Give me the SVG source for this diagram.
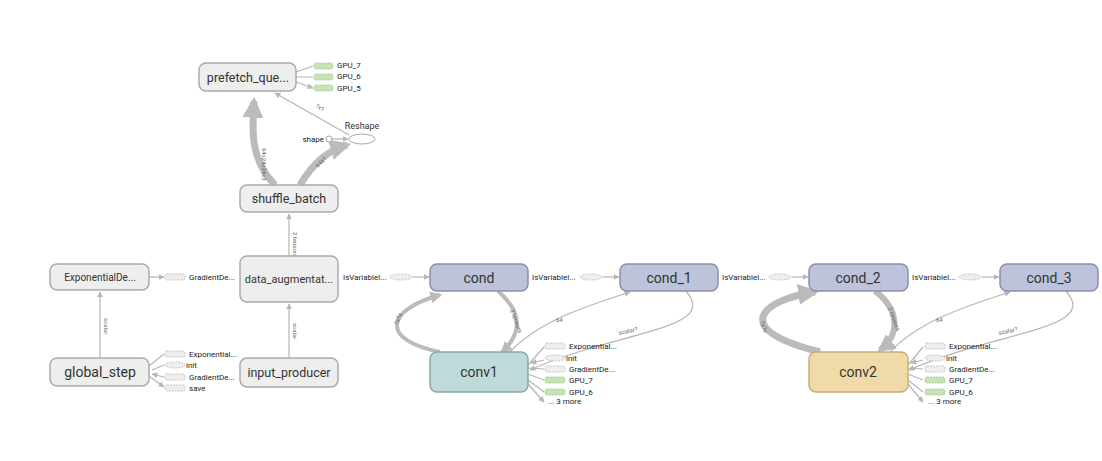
<svg xmlns="http://www.w3.org/2000/svg" width="1102" height="461" viewBox="0 0 1102 461">
<style>
.n{fill:#eee;stroke:#aaa;stroke-width:1.5}
.c{fill:#bcc3db;stroke:#8a90a8;stroke-width:1.5}
.t{font-family:Roboto,"Liberation Sans",sans-serif;fill:#333;text-anchor:middle}
.s{font-family:Roboto,"Liberation Sans",sans-serif;font-size:8px;fill:#222}
.e{font-family:Roboto,"Liberation Sans",sans-serif;font-size:6px;fill:#666}
.st{fill:#eee;stroke:#bbb;stroke-width:0.8;stroke-dasharray:2,1}
.g{fill:#c8e2b4;stroke:#9c9;stroke-width:0.8;stroke-dasharray:2,1}
.l{fill:none;stroke:#b5b5b5;stroke-width:1.2}
.w{fill:none;stroke:#bbb}
</style>
<defs>
<marker id="a" viewBox="0 0 10 10" refX="9" refY="5" markerWidth="6" markerHeight="6" orient="auto" markerUnits="userSpaceOnUse"><path d="M0,0L10,5L0,10z" fill="#b5b5b5"/></marker>
<marker id="A" viewBox="0 0 10 10" refX="8" refY="5" markerWidth="3" markerHeight="3" orient="auto"><path d="M0,0L10,5L0,10z" fill="#bbb"/></marker>
</defs>
<rect width="1102" height="461" fill="#fff"/>
<g id="connectors">
<path class="w" stroke-width="7" d="M275,185 C250,160 252,130 254,101" marker-end="url(#A)"/>
<path class="w" stroke-width="7" d="M300,185 C315,160 330,150 347,145" marker-end="url(#A)"/>
<path class="l" d="M349,135 L275,93" marker-end="url(#a)"/>
<path class="l" d="M332,139 L348,139" marker-end="url(#a)"/>
<path class="l" d="M296,72 L313,66 M296,77 L313,77 M296,82 L313,88" marker-end="url(#a)"/>
<path class="l" d="M289,256 L289,214" marker-end="url(#a)"/>
<path class="l" d="M289,358 L289,304" marker-end="url(#a)"/>
<path class="l" d="M100,358 L100,292" marker-end="url(#a)"/>
<path class="l" d="M149,277 L164,277" marker-end="url(#a)"/>
<path class="l" d="M149,366 L164,354 M149,376 L164,387" marker-end="url(#a)"/>
<path class="l" d="M164,365 L152,370 M164,377 L152,374" marker-end="url(#a)"/>
<path class="l" d="M413,277 L429,277" marker-end="url(#a)"/>
<path class="l" d="M603,277 L619,277" marker-end="url(#a)"/>
<path class="l" d="M792,277 L808,277" marker-end="url(#a)"/>
<path class="l" d="M982,277 L999,277" marker-end="url(#a)"/>
<path class="w" stroke-width="4" d="M440,352 C380,340 385,310 440,295" marker-end="url(#A)"/>
<path class="w" stroke-width="4" d="M498,291 C525,315 520,335 502,352" marker-end="url(#A)"/>
<path class="l" d="M510,352 C540,320 590,305 630,292" marker-end="url(#a)"/>
<path class="l" d="M686,291 C720,330 620,330 530,370" marker-end="url(#a)"/>
<path class="w" stroke-width="7" d="M820,352 C730,330 760,300 815,292" marker-end="url(#A)"/>
<path class="w" stroke-width="6" d="M875,291 C900,310 900,335 880,350" marker-end="url(#A)"/>
<path class="l" d="M890,352 C920,320 970,305 1010,292" marker-end="url(#a)"/>
<path class="l" d="M1066,291 C1100,330 1000,330 909,370" marker-end="url(#a)"/>
<path class="l" d="M528,365 L544,347 M528,368 L544,369 M528,374 L544,380 M528,380 L544,392 M528,384 L544,402" marker-end="url(#a)"/>
<path class="l" d="M544,360 L531,363" marker-end="url(#a)"/>
<path class="l" d="M908,365 L923,347 M908,368 L923,369 M908,374 L923,380 M908,380 L923,392 M908,384 L923,402" marker-end="url(#a)"/>
<path class="l" d="M923,360 L911,363" marker-end="url(#a)"/>
</g>
<g id="edge-labels">
<text class="e" transform="translate(262,148) rotate(90)">64x24x24x3</text>
<text class="e" transform="translate(318,168) rotate(-45)">64x1</text>
<text class="e" transform="translate(315,107) rotate(30)">?x1</text>
<text class="e" transform="translate(293,232) rotate(90)">2 tensors</text>
<text class="e" transform="translate(293,323) rotate(90)">scalar</text>
<text class="e" transform="translate(104,318) rotate(90)">scalar</text>
<text class="e" transform="translate(398,325) rotate(-70)">?x?x</text>
<text class="e" transform="translate(510,310) rotate(70)">2 tensors</text>
<text class="e" x="556" y="322">64</text>
<text class="e" transform="translate(619,335) rotate(-12)">scalar?</text>
<text class="e" transform="translate(760,322) rotate(70)">?x?x</text>
<text class="e" transform="translate(888,308) rotate(70)">2 tensors</text>
<text class="e" x="936" y="322">64</text>
<text class="e" transform="translate(999,335) rotate(-12)">scalar?</text>
</g>
<g id="prefetch_queue"><rect class="n" x="199" y="63" width="97" height="28" rx="7"/><text class="t" x="248" y="82" font-size="12.5">prefetch_que...</text></g>
<g id="gpu_stubs_top">
<rect class="g" x="314" y="63" width="19" height="6" rx="2"/><text class="s" x="337" y="68">GPU_7</text>
<rect class="g" x="314" y="74" width="19" height="6" rx="2"/><text class="s" x="337" y="79">GPU_6</text>
<rect class="g" x="314" y="85" width="19" height="6" rx="2"/><text class="s" x="337" y="91">GPU_5</text>
</g>
<g id="Reshape"><ellipse cx="362" cy="139" rx="13" ry="5" fill="#fff" stroke="#aaa"/><text class="t" x="362" y="129" font-size="9">Reshape</text></g>
<g id="shape"><circle cx="329" cy="139" r="3" fill="#fff" stroke="#aaa"/><text class="s" x="324" y="142" text-anchor="end">shape</text></g>
<g id="shuffle_batch"><rect class="n" x="240" y="185" width="98" height="27" rx="7"/><text class="t" x="289" y="203" font-size="12.5">shuffle_batch</text></g>
<g id="data_augmentation"><rect class="n" x="240" y="256" width="98" height="46" rx="7"/><text class="t" x="289" y="283" font-size="11">data_augmentat...</text></g>
<g id="input_producer"><rect class="n" x="240" y="358" width="98" height="29" rx="7"/><text class="t" x="289" y="377" font-size="12.5">input_producer</text></g>
<g id="ExponentialDecay"><rect class="n" x="50" y="264" width="99" height="26" rx="7"/><text class="t" x="100" y="281" font-size="10">ExponentialDe...</text></g>
<g id="global_step"><rect class="n" x="50" y="358" width="99" height="28" rx="7"/><text class="t" x="100" y="377" font-size="14">global_step</text></g>
<g id="stubs_left">
<rect class="st" x="165" y="274" width="20" height="6" rx="2"/><text class="s" x="189" y="280">GradientDe...</text>
<rect class="st" x="165" y="351" width="20" height="6" rx="2"/><text class="s" x="189" y="357">Exponential...</text>
<ellipse class="st" cx="175" cy="365" rx="10" ry="3" fill="#fff"/><text class="s" x="186" y="368">init</text>
<rect class="st" x="165" y="374" width="20" height="6" rx="2"/><text class="s" x="189" y="380">GradientDe...</text>
<rect class="st" x="165" y="385" width="20" height="6" rx="2"/><text class="s" x="189" y="391">save</text>
</g>
<g id="isvar_stubs">
<text class="s" x="343" y="280">IsVariablel...</text><ellipse class="st" cx="401" cy="277" rx="11" ry="3" fill="#fff"/>
<text class="s" x="532" y="280">IsVariablel...</text><ellipse class="st" cx="591" cy="277" rx="11" ry="3" fill="#fff"/>
<text class="s" x="722" y="280">IsVariablel...</text><ellipse class="st" cx="780" cy="277" rx="11" ry="3" fill="#fff"/>
<text class="s" x="912" y="280">IsVariablel...</text><ellipse class="st" cx="970" cy="277" rx="11" ry="3" fill="#fff"/>
</g>
<g id="cond"><rect class="c" x="430" y="264" width="98" height="27" rx="7"/><text class="t" x="479" y="283" font-size="14">cond</text></g>
<g id="cond_1"><rect class="c" x="620" y="264" width="98" height="27" rx="7"/><text class="t" x="669" y="283" font-size="14">cond_1</text></g>
<g id="cond_2"><rect class="c" x="809" y="264" width="99" height="27" rx="7"/><text class="t" x="858" y="283" font-size="14">cond_2</text></g>
<g id="cond_3"><rect class="c" x="1000" y="264" width="98" height="27" rx="7"/><text class="t" x="1049" y="283" font-size="14">cond_3</text></g>
<g id="conv1"><rect x="430" y="352" width="98" height="40" rx="7" fill="#bfdada" stroke="#8aa8a8" stroke-width="1.5"/><text class="t" x="479" y="377" font-size="14">conv1</text></g>
<g id="conv2"><rect x="809" y="352" width="99" height="40" rx="7" fill="#f0dba8" stroke="#c8b078" stroke-width="1.5"/><text class="t" x="858" y="377" font-size="14">conv2</text></g>
<g id="stubs_conv1">
<rect class="st" x="545" y="343" width="20" height="6" rx="2"/><text class="s" x="569" y="349">Exponential...</text>
<ellipse class="st" cx="555" cy="358" rx="10" ry="3" fill="#fff"/><text class="s" x="566" y="361">init</text>
<rect class="st" x="545" y="366" width="20" height="6" rx="2"/><text class="s" x="569" y="372">GradientDe...</text>
<rect class="g" x="545" y="377" width="20" height="6" rx="2"/><text class="s" x="569" y="383">GPU_7</text>
<rect class="g" x="545" y="389" width="20" height="6" rx="2"/><text class="s" x="569" y="395">GPU_6</text>
<text class="s" x="548" y="404">... 3 more</text>
</g>
<g id="stubs_conv2">
<rect class="st" x="925" y="343" width="20" height="6" rx="2"/><text class="s" x="949" y="349">Exponential...</text>
<ellipse class="st" cx="935" cy="358" rx="10" ry="3" fill="#fff"/><text class="s" x="946" y="361">init</text>
<rect class="st" x="925" y="366" width="20" height="6" rx="2"/><text class="s" x="949" y="372">GradientDe...</text>
<rect class="g" x="925" y="377" width="20" height="6" rx="2"/><text class="s" x="949" y="383">GPU_7</text>
<rect class="g" x="925" y="389" width="20" height="6" rx="2"/><text class="s" x="949" y="395">GPU_6</text>
<text class="s" x="928" y="404">... 3 more</text>
</g>
</svg>
